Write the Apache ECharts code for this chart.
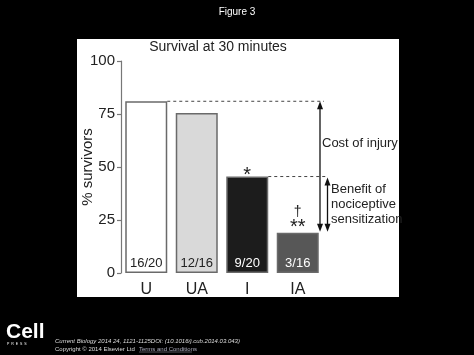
<!DOCTYPE html>
<html><head><meta charset="utf-8">
<script src="https://cdn.jsdelivr.net/npm/echarts@6/dist/echarts.min.js"></script>
<style>html,body{margin:0;padding:0;background:#000;}#c{width:474px;height:355px;}</style>
</head><body><div id="c"></div>
<script>
const categories = ['U', 'UA', 'I', 'IA'];
const survival = [81, 75.5, 45.5, 19];
const counts = ['16/20', '12/16', '9/20', '3/16'];
const marks = ['', '', '*', '**'];
const daggers = ['', '', '', '†'];
const yTicks = [0, 25, 50, 75, 100];

const barColors = ['#ffffff', '#d9d9d9', '#1c1c1c', '#575757'];
const labelColors = ['#222', '#222', '#fff', '#fff'];
const F = '"Liberation Sans", Arial, sans-serif';

const chart = echarts.init(document.getElementById('c'), null, {renderer: 'canvas'});
chart.setOption({
  backgroundColor: '#000',
  animation: false,
  grid: {left: 121, top: 61, width: 202, height: 212},
  xAxis: {
    type: 'category', data: categories,
    axisLine: {show: false}, axisTick: {show: false},
    axisLabel: {fontSize: 16, color: '#222', fontFamily: F, margin: 9}
  },
  yAxis: {
    type: 'value', min: yTicks[0], max: yTicks[yTicks.length - 1], interval: yTicks[1] - yTicks[0],
    name: '% survivors', nameLocation: 'middle', nameGap: 26, nameRotate: 90, nameMoveOverlap: false,
    nameTextStyle: {fontSize: 15, color: '#222', fontFamily: F},
    axisLine: {show: true, lineStyle: {color: '#777', width: 1.2}},
    axisTick: {show: true, length: 4, lineStyle: {color: '#777', width: 1.2}},
    axisLabel: {fontSize: 15, color: '#222', fontFamily: F, margin: 6},
    splitLine: {show: false}
  },
  series: [{
    type: 'bar', barWidth: 42, z: 5,
    data: survival.map((v, i) => ({
      value: v,
      itemStyle: {color: barColors[i], borderColor: '#6a6a6a', borderWidth: 1.5},
      label: {color: labelColors[i]}
    })),
    label: {
      show: true, position: 'insideBottom', distance: 3,
      fontSize: 13, fontFamily: F,
      formatter: p => counts[p.dataIndex]
    }
  }]
});

function px(cat, v) { return chart.convertToPixel({xAxisIndex: 0, yAxisIndex: 0}, [cat, v]); }

const g = [];
g.push({type: 'rect', shape: {x: 77, y: 39, width: 322, height: 258}, style: {fill: '#fff'}, z: -10, silent: true});
g.push({type: 'text', x: 237, y: 12, style: {text: 'Figure 3', fill: '#fff', font: '10px ' + F, textAlign: 'center', textVerticalAlign: 'middle'}});
g.push({type: 'text', x: 218, y: 47, style: {text: 'Survival at 30 minutes', fill: '#222', font: '14px ' + F, textAlign: 'center', textVerticalAlign: 'middle'}, z: 20});

categories.forEach((c, i) => {
  const p = px(c, survival[i]);
  if (marks[i]) g.push({type: 'text', x: p[0], y: p[1] - 1 - (i === 3 ? 4 : 0), style: {text: marks[i], fill: '#222', font: '20px ' + F, textAlign: 'center', textVerticalAlign: 'middle'}, z: 20});
  if (daggers[i]) g.push({type: 'text', x: p[0], y: p[1] - 21, style: {text: daggers[i], fill: '#222', font: '14px ' + F, textAlign: 'center', textVerticalAlign: 'middle'}, z: 20});
});

const pU = px('U', survival[0]);
const pI = px('I', survival[2]);
const pIA = px('IA', survival[3]);
const xLong = 320, xShort = 327.5;
g.push({type: 'line', shape: {x1: pU[0] + 21, y1: pU[1], x2: 324, y2: pU[1]}, style: {stroke: '#444', lineWidth: 1, lineDash: [3, 3]}, z: 20});
g.push({type: 'line', shape: {x1: pI[0] + 21, y1: pI[1], x2: 328, y2: pI[1]}, style: {stroke: '#444', lineWidth: 1, lineDash: [3, 3]}, z: 20});

function arrow(x, yTop, yBot) {
  g.push({type: 'line', shape: {x1: x, y1: yTop + 5, x2: x, y2: yBot - 5}, style: {stroke: '#111', lineWidth: 1.3}, z: 20});
  g.push({type: 'polygon', shape: {points: [[x, yTop], [x - 3, yTop + 8], [x + 3, yTop + 8]]}, style: {fill: '#111'}, z: 20});
  g.push({type: 'polygon', shape: {points: [[x, yBot], [x - 3, yBot - 8], [x + 3, yBot - 8]]}, style: {fill: '#111'}, z: 20});
}
arrow(xLong, pU[1], pIA[1] - 1);
arrow(xShort, pI[1] + 1, pIA[1] - 1);

g.push({type: 'text', x: 322, y: 143, style: {text: 'Cost of injury', fill: '#222', font: '13px ' + F, textVerticalAlign: 'middle'}, z: 20});
g.push({type: 'text', x: 331, y: 182, style: {text: 'Benefit of\nnociceptive\nsensitization', fill: '#222', font: '13px ' + F, lineHeight: 15, textVerticalAlign: 'top'}, z: 20});

g.push({type: 'text', x: 6, y: 332, style: {text: 'Cell', fill: '#fff', font: 'bold 21px ' + F, textVerticalAlign: 'middle'}});
g.push({type: 'text', x: 7, y: 344, style: {text: 'P  R  E  S  S', fill: '#fff', font: '3.5px ' + F, textVerticalAlign: 'middle'}});
g.push({type: 'text', x: 55, y: 341.5, style: {text: 'Current Biology 2014 24, 1121-1125DOI: (10.1016/j.cub.2014.03.043)', fill: '#ddd', font: 'italic 6px ' + F, textVerticalAlign: 'middle'}});
g.push({type: 'text', x: 55, y: 349, style: {text: 'Copyright © 2014 Elsevier Ltd ', fill: '#ddd', font: '6px ' + F, textVerticalAlign: 'middle'}});
g.push({type: 'text', x: 139, y: 349, style: {text: 'Terms and Conditions', fill: '#aab', font: '6px ' + F, textVerticalAlign: 'middle'}});
g.push({type: 'line', shape: {x1: 139, y1: 352, x2: 192, y2: 352}, style: {stroke: '#aab', lineWidth: 0.5}});

chart.setOption({graphic: g});
</script></body></html>
